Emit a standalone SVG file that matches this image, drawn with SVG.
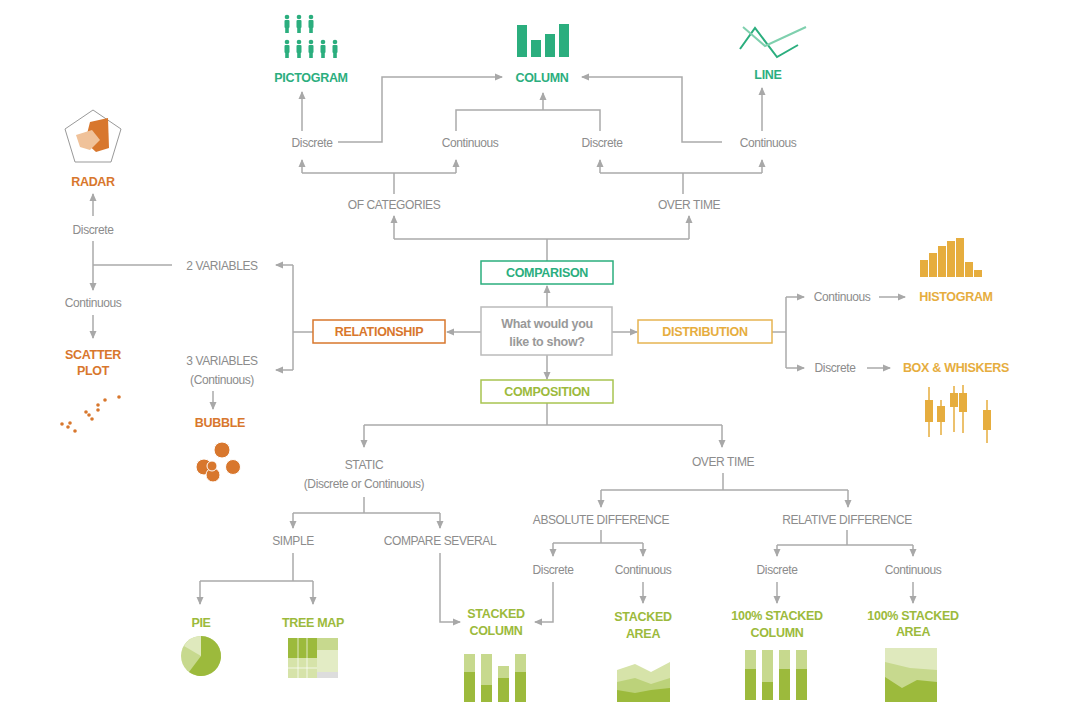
<svg xmlns="http://www.w3.org/2000/svg" width="1080" height="726" viewBox="0 0 1080 726">
<defs>
<marker id="ah" markerWidth="8" markerHeight="8" refX="7" refY="4" orient="auto" markerUnits="userSpaceOnUse"><path d="M0,0.5 L8,4 L0,7.5 z" fill="#a8a8a8"/></marker>
<g id="p"><circle cx="0" cy="0" r="2.3"/><rect x="-2.5" y="3" width="5" height="8" rx="1"/><rect x="-1.8" y="10" width="3.6" height="6"/></g>
<style>
text{font-family:"Liberation Sans",Arial,sans-serif;text-anchor:middle}
.g{fill:#8c8c8c;font-size:12px;letter-spacing:-0.4px}
.b{font-weight:bold;font-size:12.5px;letter-spacing:-0.3px}
.t{fill:#2bae7e}.o{fill:#d8772d}.y{fill:#e6ad3e}.l{fill:#9cba3c}
.c path{fill:none;stroke:#aaa;stroke-width:1.5}
.c .a{marker-end:url(#ah)}
.box{fill:#fff;stroke-width:1.5}
</style>
</defs>
<rect width="1080" height="726" fill="#fff"/>

<g class="c" id="connectors">
<path class="a" d="M547,307 V286"/>
<path d="M547,261 V239 M394,239 H689"/>
<path class="a" d="M394,239 V216"/><path class="a" d="M689,239 V216"/>
<path d="M394,194 V173 M302,173 H456"/>
<path class="a" d="M302,173 V160"/><path class="a" d="M456,173 V160"/>
<path class="a" d="M302,131 V92"/>
<path class="a" d="M338,142 H382 V77 H502"/>
<path d="M456,131 V110 H600 V131"/>
<path class="a" d="M543,110 V93"/>
<path class="a" d="M722,142 H682 V77 H582"/>
<path class="a" d="M762,131 V88"/>
<path d="M683,194 V173 M600,173 H762"/>
<path class="a" d="M600,173 V160"/><path class="a" d="M762,173 V160"/>
<path class="a" d="M481,332 H447"/>
<path d="M313,332 H293 M293,265 V370"/>
<path class="a" d="M293,265 H276"/><path class="a" d="M293,370 H276"/>
<path d="M172,265 H93"/>
<path class="a" d="M93,216 V194"/>
<path class="a" d="M93,241 V290"/>
<path class="a" d="M93,315 V338"/>
<path class="a" d="M213,391 V409"/>
<path class="a" d="M612,332 H637"/>
<path d="M772,332 H786 M786,297 V368"/>
<path class="a" d="M786,297 H804"/><path class="a" d="M786,368 H804"/>
<path class="a" d="M879,297 H905"/><path class="a" d="M867,368 H890"/>
<path class="a" d="M547,355 V379"/>
<path d="M547,403 V425 M364,425 H722"/>
<path class="a" d="M364,425 V447"/><path class="a" d="M722,425 V447"/>
<path d="M364,497 V513 M293,513 H440"/>
<path class="a" d="M293,513 V528"/><path class="a" d="M440,513 V528"/>
<path d="M293,553 V581 M200,581 H313"/>
<path class="a" d="M200,581 V604"/><path class="a" d="M313,581 V604"/>
<path class="a" d="M440,553 V622 H460"/>
<path d="M723,473 V490 M601,490 H848"/>
<path class="a" d="M601,490 V507"/><path class="a" d="M848,490 V507"/>
<path d="M601,530 V543 M553,543 H643"/>
<path class="a" d="M553,543 V556"/><path class="a" d="M643,543 V556"/>
<path class="a" d="M553,582 V622 H535"/>
<path class="a" d="M643,582 V603"/>
<path d="M847,530 V545 M777,545 H913"/>
<path class="a" d="M777,545 V556"/><path class="a" d="M913,545 V556"/>
<path class="a" d="M777,582 V603"/><path class="a" d="M913,582 V603"/>
</g>

<g id="center"><rect class="box" x="481" y="307" width="131" height="48" stroke="#bbb"/>
<text x="547" y="328" class="b" fill="#999">What would you</text><text x="547" y="346" class="b" fill="#999">like to show?</text></g>
<g id="comparison"><rect class="box" x="481" y="261" width="132" height="23" stroke="#2bae7e"/><text x="547" y="277" class="b t">COMPARISON</text></g>
<g id="composition"><rect class="box" x="481" y="380" width="132" height="23" stroke="#a8c450"/><text x="547" y="396" class="b l">COMPOSITION</text></g>
<g id="relationship"><rect class="box" x="313" y="320" width="132" height="23" stroke="#d8772d"/><text x="379" y="336" class="b o">RELATIONSHIP</text></g>
<g id="distribution"><rect class="box" x="638" y="320" width="134" height="23" stroke="#e6b452"/><text x="705" y="336" class="b y">DISTRIBUTION</text></g>

<g id="labels" class="g">
<text x="394" y="209">OF CATEGORIES</text><text x="689" y="209">OVER TIME</text>
<text x="312" y="147">Discrete</text><text x="470" y="147">Continuous</text>
<text x="602" y="147">Discrete</text><text x="768" y="147">Continuous</text>
<text x="93" y="234">Discrete</text><text x="93" y="307">Continuous</text>
<text x="222" y="270">2 VARIABLES</text><text x="222" y="365">3 VARIABLES</text><text x="222" y="384">(Continuous)</text>
<text x="842" y="301">Continuous</text><text x="835" y="372">Discrete</text>
<text x="364" y="469">STATIC</text><text x="364" y="488">(Discrete or Continuous)</text>
<text x="723" y="466">OVER TIME</text>
<text x="293" y="545">SIMPLE</text><text x="440" y="545">COMPARE SEVERAL</text>
<text x="601" y="524">ABSOLUTE DIFFERENCE</text><text x="847" y="524">RELATIVE DIFFERENCE</text>
<text x="553" y="574">Discrete</text><text x="643" y="574">Continuous</text>
<text x="777" y="574">Discrete</text><text x="913" y="574">Continuous</text>
</g>

<g id="pictogram"><text x="311" y="82" class="b t">PICTOGRAM</text>
<g fill="#2bae7e">
<use href="#p" x="287" y="17"/><use href="#p" x="299" y="17"/><use href="#p" x="311" y="17"/>
<use href="#p" x="287" y="42"/><use href="#p" x="299" y="42"/><use href="#p" x="311" y="42"/><use href="#p" x="323" y="42"/><use href="#p" x="335" y="42"/>
</g></g>
<g id="column"><text x="542" y="82" class="b t">COLUMN</text>
<g fill="#2bae7e"><rect x="517" y="25" width="10" height="32"/><rect x="531" y="40" width="10" height="17"/><rect x="545" y="34" width="10" height="23"/><rect x="559" y="24" width="10" height="33"/></g></g>
<g id="line"><text x="768" y="79" class="b t">LINE</text>
<path d="M740,49 L755,28 L777,57 L798,45" fill="none" stroke="#2bae7e" stroke-width="2"/>
<path d="M743,27 L765,46 L806,27" fill="none" stroke="#7fd0ae" stroke-width="2"/></g>

<g id="radar"><text x="93" y="186" class="b o">RADAR</text>
<polygon points="93,110 121,129 111,162 75,162 65,129" fill="#fff" stroke="#999" stroke-width="1"/>
<polygon points="90,122 108,118 109,148 96,152 85,142" fill="#d8772d"/>
<polygon points="76,135 92,130 100,140 90,150 80,147" fill="#f0c29a"/></g>
<g id="scatter"><text x="93" y="359" class="b o">SCATTER</text><text x="93" y="375" class="b o">PLOT</text>
<g fill="#d8772d"><circle cx="62" cy="424" r="1.8"/><circle cx="70" cy="423" r="1.8"/><circle cx="75" cy="431" r="1.8"/><circle cx="86" cy="412" r="1.8"/><circle cx="89" cy="415" r="1.8"/><circle cx="92" cy="419" r="1.8"/><circle cx="98" cy="405" r="1.8"/><circle cx="98" cy="410" r="1.8"/><circle cx="105" cy="400" r="1.8"/><circle cx="119" cy="397" r="1.8"/><circle cx="68" cy="427" r="1.8"/></g></g>
<g id="bubble"><text x="220" y="427" class="b o">BUBBLE</text>
<g fill="#d8772d" stroke="#fff" stroke-width="1"><circle cx="222" cy="450" r="8"/><circle cx="204" cy="467" r="8"/><circle cx="233" cy="467" r="7.5"/><circle cx="213" cy="475" r="7"/><circle cx="212" cy="466" r="5"/></g></g>

<g id="histogram"><text x="956" y="301" class="b y">HISTOGRAM</text>
<g fill="#e6ad3e"><rect x="920" y="260" width="8" height="17"/><rect x="929" y="253" width="8" height="24"/><rect x="938" y="246" width="8" height="31"/><rect x="947" y="241" width="8" height="36"/><rect x="956" y="238" width="8" height="39"/><rect x="965" y="262" width="8" height="15"/><rect x="974" y="270" width="8" height="7"/></g></g>
<g id="box"><text x="956" y="372" class="b y">BOX &amp; WHISKERS</text>
<g stroke="#e6ad3e" stroke-width="1.5"><path d="M929,387 V437 M941,400 V435 M954,386 V432 M963,385 V433 M987,400 V443"/></g>
<g fill="#e6ad3e"><rect x="925" y="400" width="8" height="22"/><rect x="937" y="406" width="8" height="16"/><rect x="950" y="393" width="8" height="14"/><rect x="959" y="393" width="8" height="19"/><rect x="983" y="410" width="8" height="20"/></g></g>

<g id="pie"><text x="201" y="627" class="b l">PIE</text>
<circle cx="201" cy="656" r="20" fill="#c7d98e"/>
<path d="M201,656 L201,636 A20,20 0 1,1 189,672 z" fill="#9cba3c"/>
<path d="M201,656 L184,646 A20,20 0 0,1 201,636 z" fill="#dfe9bd"/></g>
<g id="treemap"><text x="313" y="627" class="b l">TREE MAP</text>
<rect x="288" y="638" width="50" height="40" fill="#e3ecc5"/>
<rect x="288" y="638" width="29" height="20" fill="#9cba3c"/>
<rect x="317" y="638" width="21" height="12" fill="#c7d98e"/>
<rect x="288" y="658" width="29" height="20" fill="#d6e3a9"/>
<rect x="317" y="672" width="21" height="6" fill="#ddd"/>
<path d="M298,638 V678 M307,638 V678 M288,668 H317" stroke="#fff" stroke-width="0.7" fill="none"/></g>
<g id="stackedcol"><text x="496" y="618" class="b l">STACKED</text><text x="496" y="635" class="b l">COLUMN</text>
<g fill="#c7d98e"><rect x="464" y="654" width="11" height="48"/><rect x="481" y="654" width="11" height="48"/><rect x="498" y="666" width="11" height="36"/><rect x="515" y="654" width="11" height="48"/></g>
<g fill="#9cba3c"><rect x="464" y="672" width="11" height="30"/><rect x="481" y="685" width="11" height="17"/><rect x="498" y="678" width="11" height="24"/><rect x="515" y="672" width="11" height="30"/></g></g>
<g id="stackedarea"><text x="643" y="621" class="b l">STACKED</text><text x="643" y="638" class="b l">AREA</text>
<path d="M617,670 L635,664 L651,672 L670,662 V702 H617 z" fill="#d6e3a9"/>
<path d="M617,682 L635,678 L651,684 L670,678 V702 H617 z" fill="#bcd27a"/>
<path d="M617,690 L635,693 L651,690 L670,688 V702 H617 z" fill="#9cba3c"/></g>
<g id="pct100col"><text x="777" y="620" class="b l">100% STACKED</text><text x="777" y="637" class="b l">COLUMN</text>
<g fill="#c7d98e"><rect x="745" y="650" width="11" height="50"/><rect x="762" y="650" width="11" height="50"/><rect x="779" y="650" width="11" height="50"/><rect x="796" y="650" width="11" height="50"/></g>
<g fill="#9cba3c"><rect x="745" y="669" width="11" height="31"/><rect x="762" y="682" width="11" height="18"/><rect x="779" y="669" width="11" height="31"/><rect x="796" y="669" width="11" height="31"/></g></g>
<g id="pct100area"><text x="913" y="620" class="b l">100% STACKED</text><text x="913" y="636" class="b l">AREA</text>
<rect x="885" y="648" width="52" height="54" fill="#dfe9bd"/>
<path d="M885,662 L910,668 L937,670 V702 H885 z" fill="#c7d98e"/>
<path d="M885,677 L902,688 L917,680 L937,682 V702 H885 z" fill="#9cba3c"/></g>
</svg>
